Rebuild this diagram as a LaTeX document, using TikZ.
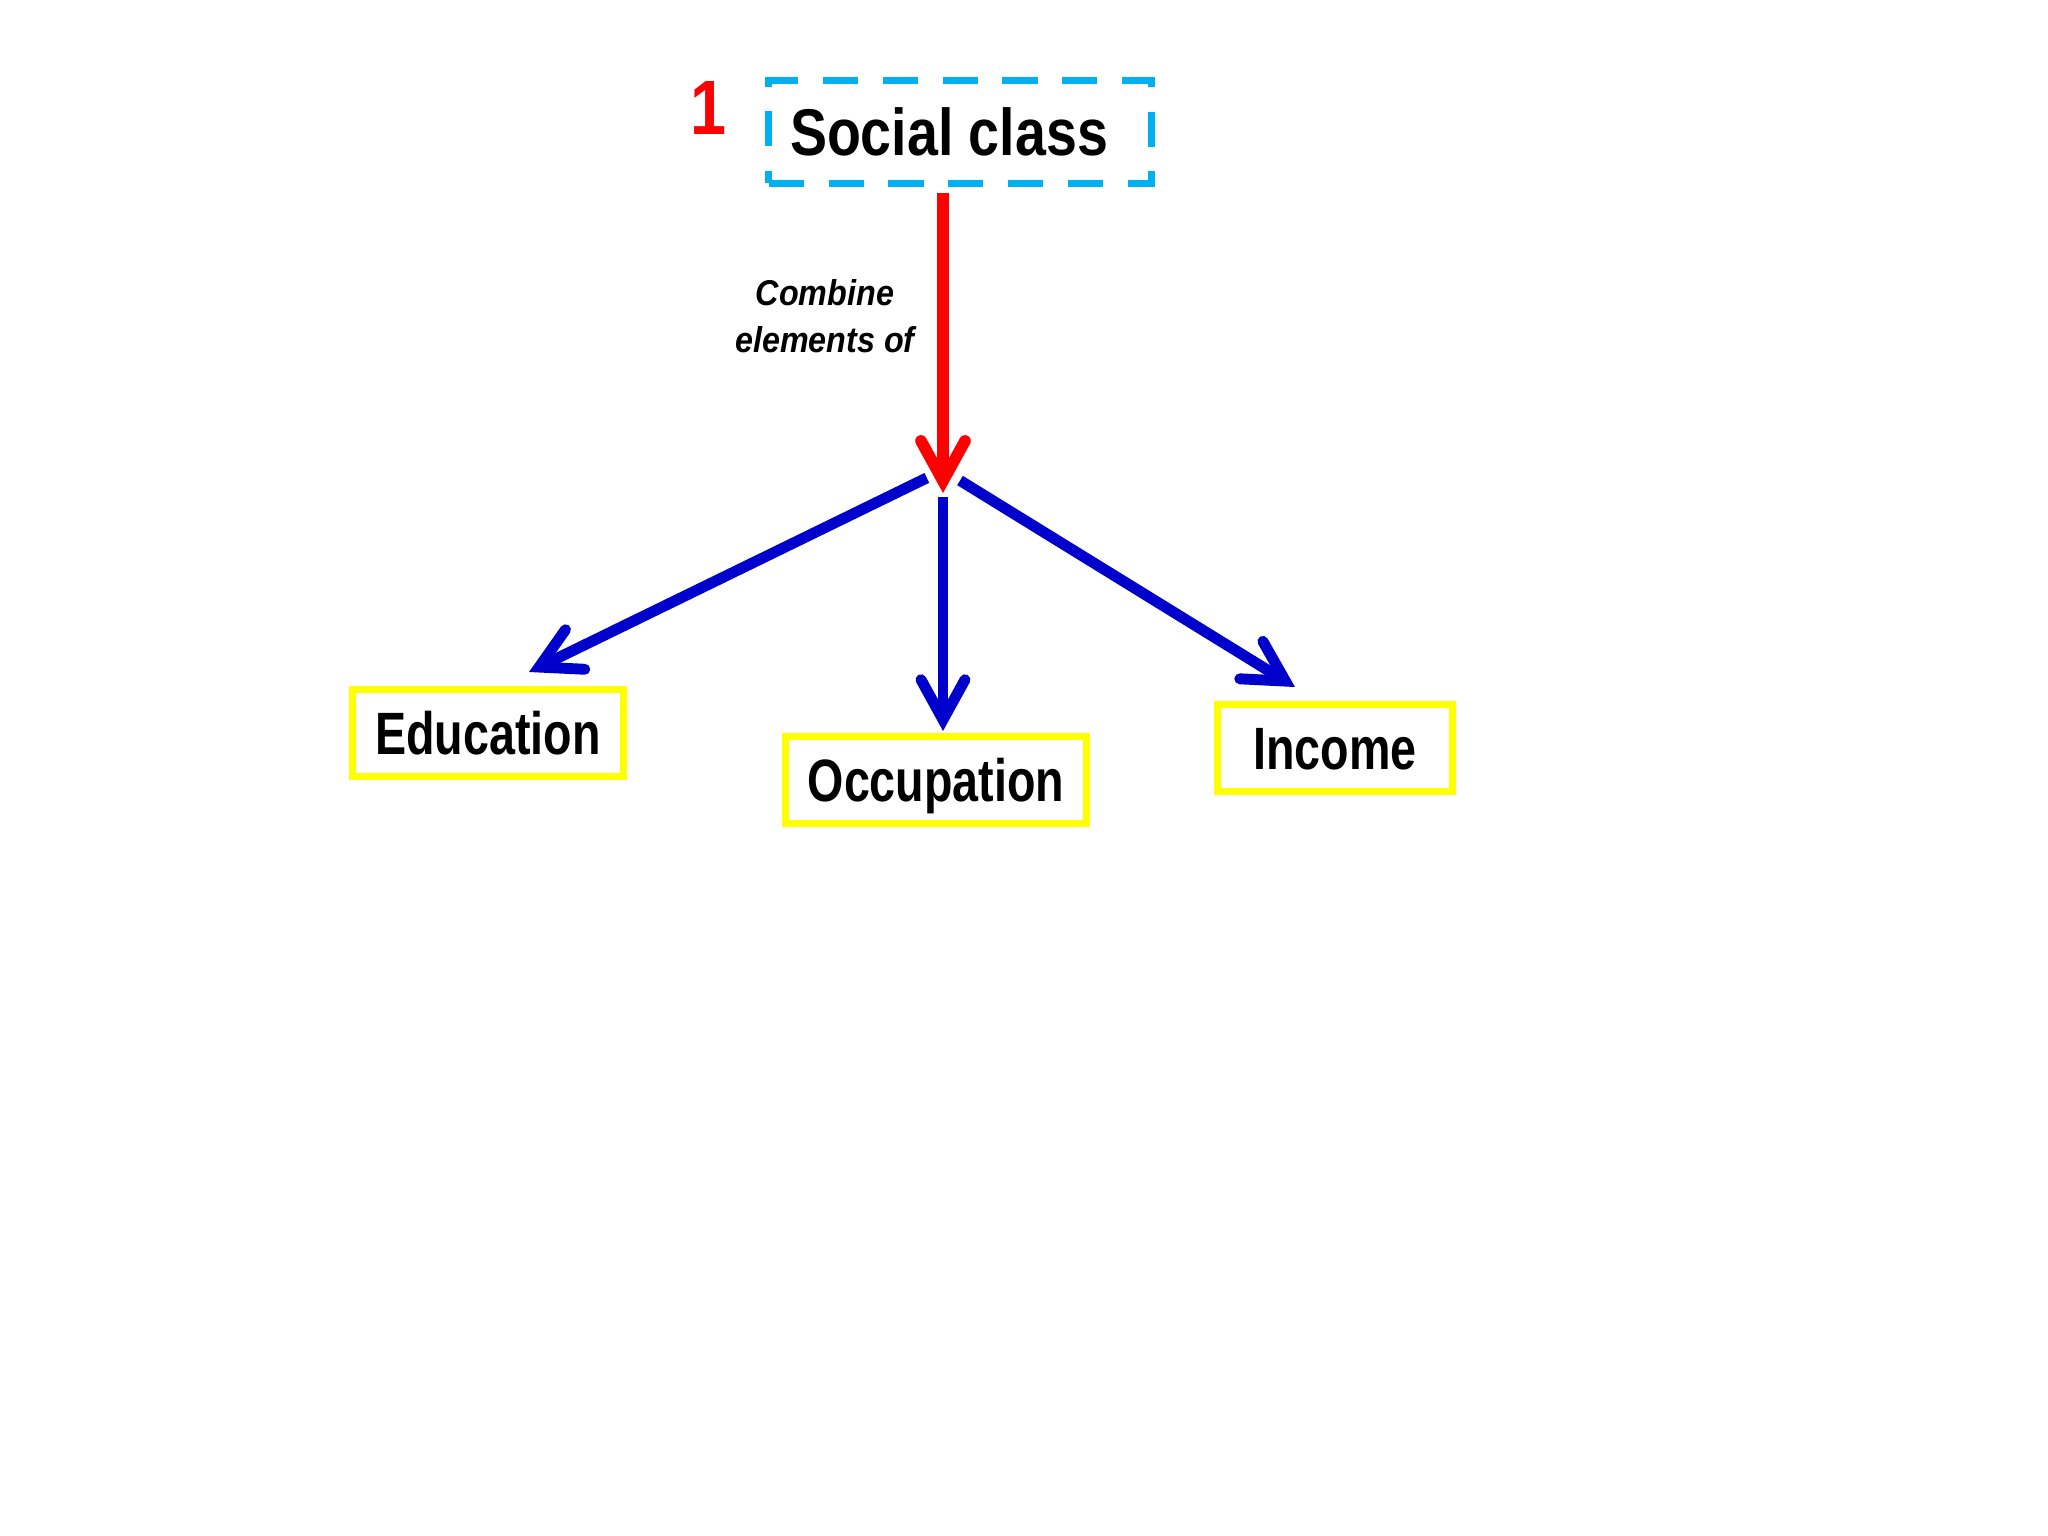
\documentclass[tikz,border=0pt]{standalone}
\usepackage{fontspec}
\setmainfont{Liberation Sans}
\usepackage{graphicx}
\usepackage{xcolor}
\usetikzlibrary{calc}
\usetikzlibrary{arrows.meta}
\usetikzlibrary{positioning}
\definecolor{boxcyan}{HTML}{00B0F0}
\definecolor{boxyellow}{HTML}{FFFF00}
\definecolor{linkblue}{HTML}{0000CC}
\definecolor{linkred}{HTML}{FF0000}
\newcommand{\narrow}[2]{\scalebox{#1}[1]{#2}}
\tikzset{>={Straight Barb[length=4mm, width=4.4mm, line cap=round, line join=miter]}}
\tikzstyle{factor} = [rectangle, draw=boxyellow, line width=2pt, inner sep=0pt, minimum height=0.87cm, text height=12.2pt, text depth=0pt, font=\fontsize{17}{20}\selectfont\bfseries]
\tikzstyle{link} = [->, draw=linkblue, line width=3.1pt]

\begin{document}
\begin{tikzpicture}[x=0.01cm, y=-0.01cm]
\useasboundingbox (0,0) rectangle (2048,1536);
\node [rectangle, draw=boxcyan, line width=2pt, dash pattern=on 10pt off 7pt, minimum width=3.82cm, minimum height=1.02cm, inner sep=0pt, text height=13.4pt, text depth=0pt, font=\fontsize{18.8}{22}\selectfont\bfseries] (social) at (960,132) {\narrow{0.84}{Social class}\kern0.22cm};
\node [text=linkred, inner sep=0pt, font=\fontsize{21.9}{24}\selectfont\bfseries] (num) at (708,108) {\narrow{0.84}{1}};
\node [align=center, inner sep=0pt, font=\fontsize{10.2}{13.4}\selectfont\bfseries\itshape] (combine) at (825,316) {\narrow{0.9}{Combine}\\\narrow{0.9}{elements of}};

\node [factor, minimum width=2.7cm] (education) at (488,733) {\narrow{0.78}{Education}};
\node [factor, minimum width=3cm] (occupation) at (936,780) {\narrow{0.78}{Occupation}};
\node [factor, minimum width=2.35cm] (income) at (1335,748) {\narrow{0.78}{Income}};

\coordinate (fork) at (943,470);
\coordinate (redtip) at (943,493);
\coordinate (edutip) at (529,672);
\coordinate (occtip) at (943,731);
\coordinate (inctip) at (1295,687);

\draw [->, draw=linkred, line width=3.3pt, shorten <=0.065cm] (social.south -| redtip) -- (redtip);
\draw [link, shorten <=0.18cm] (fork) -- (edutip);
\draw [link, shorten <=0.27cm] (fork) -- (occtip);
\draw [link, shorten <=0.2cm] (fork) -- (inctip);
\end{tikzpicture}
\end{document}
